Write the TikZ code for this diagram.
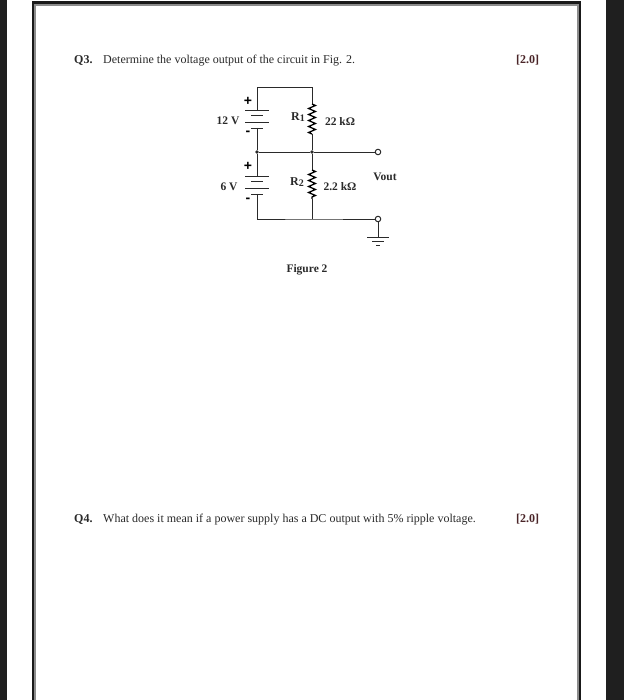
\documentclass[tikz,border=0pt]{standalone}
\usepackage{fontspec}
\setmainfont{Liberation Serif}
\newfontfamily\signfont{Liberation Sans}
\usepackage{tikz}
\usetikzlibrary{decorations.pathmorphing}
\definecolor{inkdark}{HTML}{2A2A2A}
\definecolor{markred}{HTML}{4A2528}
\tikzset{
    wire/.style={draw=inkdark, line width=0.9pt},
    plate/.style={draw=inkdark, line width=0.8pt},
    resistor/.style={draw=black, line width=1.3pt, decorate, decoration={zigzag, segment length=6pt, amplitude=3.4pt}},
    terminal/.style={draw=inkdark, line width=1pt, fill=white, circle, inner sep=0pt, minimum size=5.5pt},
    junction/.style={fill=inkdark, circle, inner sep=0pt, minimum size=3.6pt},
    question/.style={anchor=base west, font=\fontsize{12}{14}\selectfont, text=inkdark, inner sep=0pt},
    marks/.style={anchor=base west, font=\fontsize{12}{14}\selectfont\bfseries, text=markred, inner sep=0pt},
    value/.style={font=\fontsize{11.5}{13}\selectfont\bfseries, text=inkdark, inner sep=0pt},
    sign/.style={font=\signfont\fontsize{14}{14}\selectfont\bfseries, text=black, inner sep=0pt}
}
\begin{document}
\begin{tikzpicture}[x=1pt, y=-1pt]
    \useasboundingbox (0,0) rectangle (624,700);
    % Page frame
    \fill[black!88] (0,0) rectangle (7,700);
    \fill[black!88] (606,0) rectangle (624,700);
    \fill[black!90] (32,1) rectangle (581,700);
    \fill[black!45] (34,4) rectangle (579,700);
    \fill[white] (36,6) rectangle (577,700);

    % Question 3
    \node[question, font=\fontsize{12}{14}\selectfont\bfseries] (q3) at (74,63.7) {Q3.};
    \node[question] (q3text) at (103,63.7) {Determine the voltage output of the circuit in Fig. 2.};
    \node[marks] (q3marks) at (516,63.7) {[2.0]};

    % Points of the circuit
    \coordinate (topl) at (257,87);
    \coordinate (topr) at (312,87);
    \coordinate (r1top) at (312,104);
    \coordinate (r1bot) at (312,134);
    \coordinate (r2top) at (312,170);
    \coordinate (r2bot) at (312,199);
    \coordinate (botl) at (257,219);
    \coordinate (botr) at (312,219);
    \coordinate (b1top) at (257,110);
    \coordinate (b1bot) at (257,128);
    \coordinate (b2top) at (257,176);
    \coordinate (b2bot) at (257,194);
    \coordinate (gnd) at (378,237);
    \node[junction] (jl) at (257,152) {};
    \node[junction] (jr) at (312,152) {};
    \node[terminal] (vtop) at (378,152) {};
    \node[terminal] (vbot) at (378,219) {};

    % Wires
    \draw[wire] (b1top) -- (topl) -- (topr) -- (r1top);
    \draw[wire] (r1bot) -- (jr);
    \draw[wire] (jr) -- (r2top);
    \draw[wire] (r2bot) -- (botr);
    \draw[wire] (b1bot) -- (jl);
    \draw[wire] (jl) -- (b2top);
    \draw[wire] (b2bot) -- (botl) -- (botr) -- (vbot);
    \draw[wire] (jl) -- (jr) -- (vtop);
    \draw[wire] (vbot) -- (gnd);

    % Resistors
    \draw[resistor] (r1top) -- (r1bot);
    \draw[resistor] (r2top) -- (r2bot);

    % Battery plates
    \foreach \cell in {b1top, b2top} {
        \draw[plate] ([xshift=-12pt]\cell) -- ([xshift=12pt]\cell);
        \draw[plate] ([xshift=-6pt,yshift=-5pt]\cell) -- ([xshift=6pt,yshift=-5pt]\cell);
        \draw[plate] ([xshift=-12pt,yshift=-12pt]\cell) -- ([xshift=12pt,yshift=-12pt]\cell);
    }
    \foreach \cell in {b1bot, b2bot} {
        \draw[plate] ([xshift=-6pt]\cell) -- ([xshift=6pt]\cell);
    }

    % Ground
    \draw[wire] ([xshift=-11pt]gnd) -- ([xshift=11pt]gnd);
    \draw[wire] ([xshift=-6pt,yshift=-4pt]gnd) -- ([xshift=6pt,yshift=-4pt]gnd);
    \draw[wire] ([xshift=-2pt,yshift=-8pt]gnd) -- ([xshift=2pt,yshift=-8pt]gnd);

    % Labels
    \node[sign] (p1) at (248,101) {+};
    \node[sign] (m1) at (248,133.5) {-};
    \node[sign] (p2) at (248,166) {+};
    \node[sign] (m2) at (248,200) {-};
    \node[value] (v12) at (228,121) {12 V};
    \node[value] (v6) at (229,187) {6 V};
    \node[value, font=\fontsize{12}{13}\selectfont\bfseries] (r1) at (298,117) {R\raisebox{-1.5pt}{\fontsize{10}{10}\selectfont 1}};
    \node[value, font=\fontsize{12}{13}\selectfont\bfseries] (r2) at (297,182) {R\raisebox{-1.5pt}{\fontsize{10}{10}\selectfont 2}};
    \node[value] (r1val) at (340,121.5) {22 kΩ};
    \node[value] (r2val) at (340,186.5) {2.2 kΩ};
    \node[value] (vout) at (385,176.5) {Vout};
    \node[value] (figlabel) at (307,270) {Figure 2};

    % Question 4
    \node[question, font=\fontsize{12}{14}\selectfont\bfseries] (q4) at (74,522.5) {Q4.};
    \node[question] (q4text) at (103,522.5) {What does it mean if a power supply has a DC output with 5\% ripple voltage.};
    \node[marks] (q4marks) at (516,522.5) {[2.0]};
\end{tikzpicture}
\end{document}
